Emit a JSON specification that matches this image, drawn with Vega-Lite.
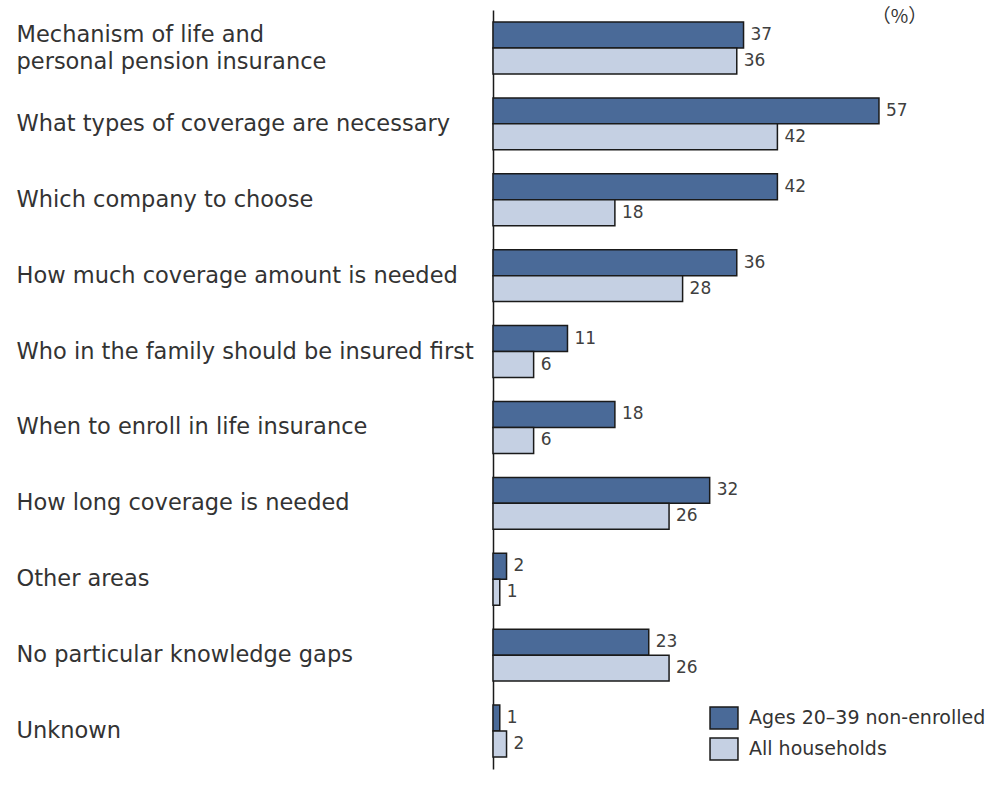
{
  "$schema": "https://vega.github.io/schema/vega-lite/v6.json",
  "autosize": {"type": "none"},
  "width": 474,
  "height": 759,
  "padding": {"left": 493, "top": 10, "right": 33, "bottom": 18},
  "background": "white",
  "config": {
    "view": {"stroke": null},
    "font": "DejaVu Sans"
  },
  "data": {
    "values": [
      {"item": "Mechanism of life and\n\u2002personal pension insurance", "group": "Ages 20–39 non-enrolled", "pct": 37},
      {"item": "Mechanism of life and\n\u2002personal pension insurance", "group": "All households", "pct": 36},
      {"item": "What types of coverage are necessary", "group": "Ages 20–39 non-enrolled", "pct": 57},
      {"item": "What types of coverage are necessary", "group": "All households", "pct": 42},
      {"item": "Which company to choose", "group": "Ages 20–39 non-enrolled", "pct": 42},
      {"item": "Which company to choose", "group": "All households", "pct": 18},
      {"item": "How much coverage amount is needed", "group": "Ages 20–39 non-enrolled", "pct": 36},
      {"item": "How much coverage amount is needed", "group": "All households", "pct": 28},
      {"item": "Who in the family should be insured first", "group": "Ages 20–39 non-enrolled", "pct": 11},
      {"item": "Who in the family should be insured first", "group": "All households", "pct": 6},
      {"item": "When to enroll in life insurance", "group": "Ages 20–39 non-enrolled", "pct": 18},
      {"item": "When to enroll in life insurance", "group": "All households", "pct": 6},
      {"item": "How long coverage is needed", "group": "Ages 20–39 non-enrolled", "pct": 32},
      {"item": "How long coverage is needed", "group": "All households", "pct": 26},
      {"item": "Other areas", "group": "Ages 20–39 non-enrolled", "pct": 2},
      {"item": "Other areas", "group": "All households", "pct": 1},
      {"item": "No particular knowledge gaps", "group": "Ages 20–39 non-enrolled", "pct": 23},
      {"item": "No particular knowledge gaps", "group": "All households", "pct": 26},
      {"item": "Unknown", "group": "Ages 20–39 non-enrolled", "pct": 1},
      {"item": "Unknown", "group": "All households", "pct": 2}
    ]
  },
  "encoding": {
    "y": {
      "field": "item",
      "type": "nominal",
      "sort": null,
      "scale": {"paddingInner": 0.316, "paddingOuter": 0.158},
      "axis": {
        "title": null,
        "ticks": false,
        "labelAlign": "left",
        "labelBaseline": "middle",
        "labelPadding": 477,
        "labelFontSize": 22.5,
        "labelColor": "#333333",
        "labelLimit": 0,
        "labelLineHeight": 27,
        "labelOffset": {"condition": {"test": "indexof(datum.value, '\\n') >= 0", "value": -13}, "value": 0},
        "labelExpr": "split(datum.label, '\\n')",
        "domainColor": "#1a1a1a",
        "domainWidth": 1.5
      }
    },
    "yOffset": {
      "field": "group",
      "type": "nominal",
      "sort": ["Ages 20–39 non-enrolled", "All households"],
      "scale": {"paddingInner": 0, "paddingOuter": 0}
    },
    "x": {
      "field": "pct",
      "type": "quantitative",
      "scale": {"domain": [0, 70], "nice": false},
      "axis": {
        "orient": "top",
        "title": "（%）",
        "titleFont": "Noto Sans CJK JP",
        "titleFontSize": 19,
        "titleFontWeight": "normal",
        "titleColor": "#333333",
        "titleX": 406,
        "titleY": 6,
        "titleBaseline": "middle",
        "titleAlign": "center",
        "labels": false,
        "ticks": false,
        "domain": false,
        "grid": false
      }
    }
  },
  "layer": [
    {
      "mark": {"type": "bar", "stroke": "#1a1a1a", "strokeWidth": 1.5},
      "encoding": {
        "color": {
          "field": "group",
          "type": "nominal",
          "sort": ["Ages 20–39 non-enrolled", "All households"],
          "scale": {
            "domain": ["Ages 20–39 non-enrolled", "All households"],
            "range": ["#4a6a98", "#c5d0e3"]
          },
          "legend": {
            "title": null,
            "orient": "none",
            "legendX": 219,
            "legendY": 696,
            "symbolType": "M-1.27,-1L1.27,-1L1.27,1L-1.27,1Z",
            "symbolSize": 484,
            "symbolStrokeColor": "#1a1a1a",
            "symbolStrokeWidth": 1.5,
            "symbolOpacity": 1,
            "labelFontSize": 19,
            "labelColor": "#333333",
            "labelOffset": 13,
            "rowPadding": 3,
            "labelLimit": 0
          }
        }
      }
    },
    {
      "mark": {"type": "text", "align": "left", "baseline": "middle", "dx": 7, "fontSize": 17, "color": "#404040"},
      "encoding": {
        "text": {"field": "pct", "type": "quantitative"}
      }
    }
  ]
}
